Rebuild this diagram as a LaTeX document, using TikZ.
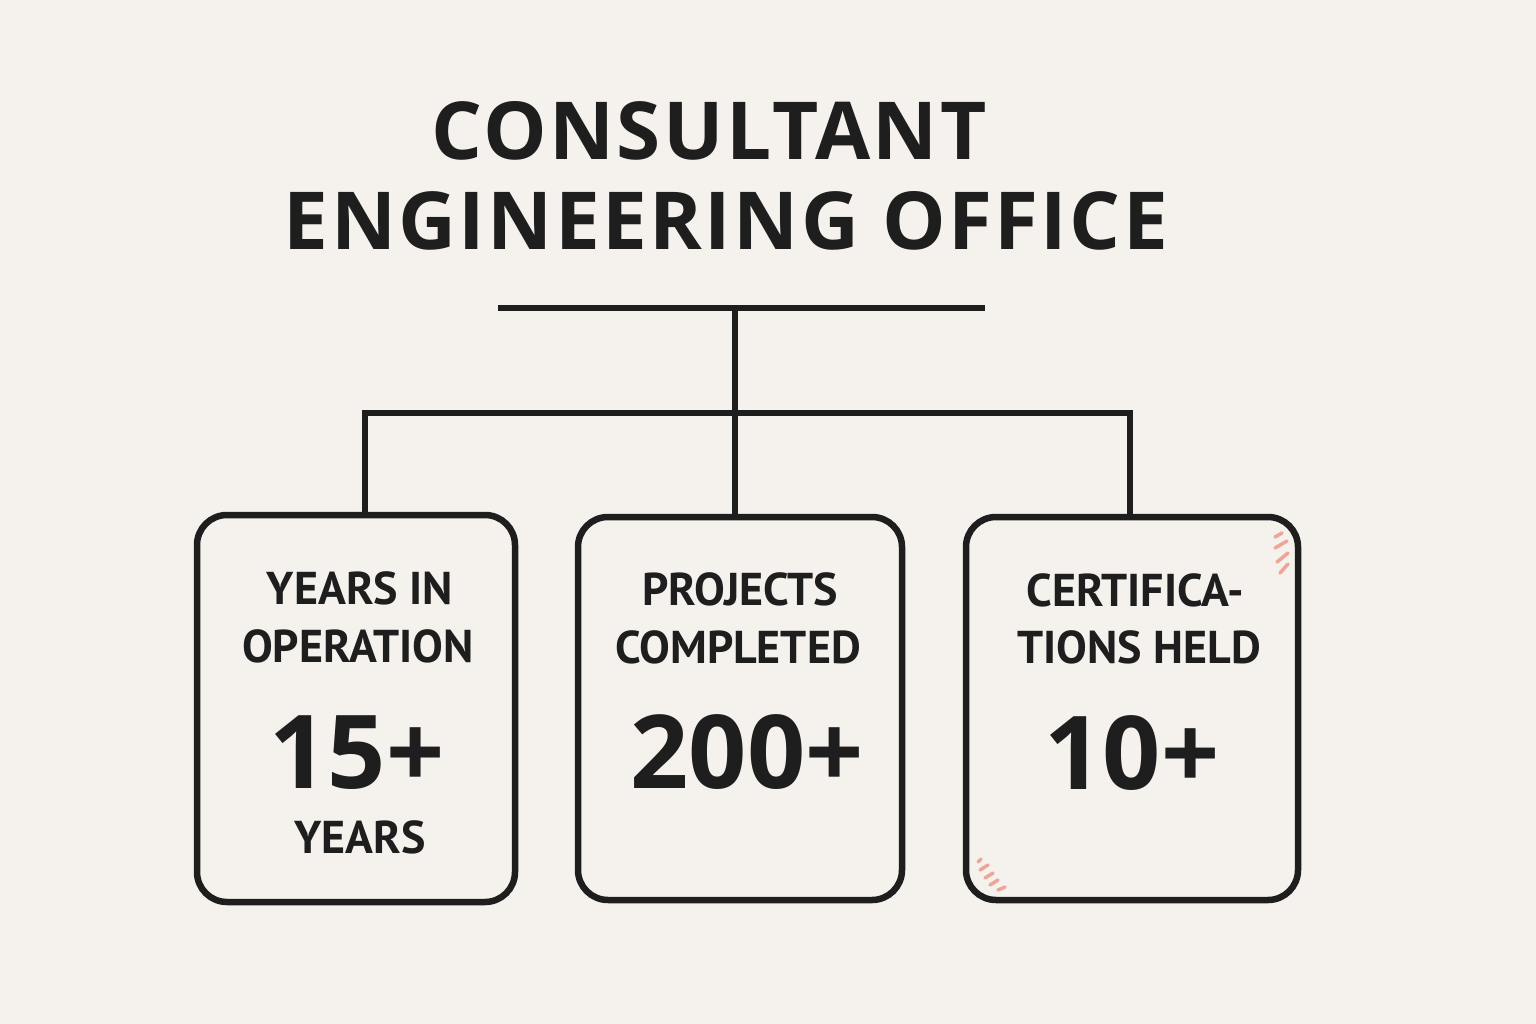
\documentclass[tikz,border=0pt]{standalone}
\usepackage{fontspec}
\setmainfont{Open Sans}
\newfontfamily\boxfont{PT Sans}
\newfontfamily\titlefont{Open Sans}[LetterSpace=3]
\definecolor{paper}{HTML}{F5F2EE}
\definecolor{ink}{HTML}{1E1E1E}
\definecolor{hatch}{HTML}{EFA595}
\begin{document}
\begin{tikzpicture}[x=1pt,y=-1pt,
  wire/.style={draw=ink,line width=6pt},
  statbox/.style={draw=ink,line width=6.5pt,rounded corners=30pt,inner sep=0pt,fill=paper},
  lbl/.style={anchor=base,inner sep=0pt,text=ink,font=\boxfont\bfseries\fontsize{46}{46}\selectfont},
  big/.style={anchor=base,inner sep=0pt,text=ink,font=\bfseries\fontsize{102}{102}\selectfont},
  ttl/.style={anchor=base,inner sep=0pt,text=ink,font=\titlefont\bfseries\fontsize{80}{80}\selectfont},
  hatchline/.style={draw=hatch,line width=3.5pt,line cap=round}]
\fill[paper] (0,0) rectangle (1536,1024);
\useasboundingbox (0,0) rectangle (1536,1024);
% title
\node[ttl] (t1) at (709,160) {CONSULTANT};
\node[ttl] (t2) at (726,250) {ENGINEERING OFFICE};
% boxes
\node[statbox,minimum width=318pt,minimum height=387pt] (b1) at (356,708.5) {};
\node[statbox,minimum width=324pt,minimum height=383pt] (b2) at (740,708.5) {};
\node[statbox,minimum width=332pt,minimum height=383pt] (b3) at (1132,708.5) {};
% connectors
\coordinate (barL) at (498,308);
\coordinate (barR) at (985,308);
\coordinate (barM) at (735,308);
\coordinate (brL) at (365,413);
\coordinate (brR) at (1130,413);
\draw[wire] (barL) -- (barR);
\draw[wire] (barM) -- (b2.north -| barM);
\draw[wire,line join=miter] (b1.north -| brL) -- (brL) -- (brR) -- (b3.north -| brR);
% box 1 text
\node[lbl] (y1) at (360,604) {YEARS IN};
\node[lbl] (y2) at (358,662) {OPERATION};
\node[big] (y3) at (357,788) {15+};
\node[lbl] (y4) at (360,853) {YEARS};
% box 2 text
\node[lbl] (p1) at (740,605) {PROJECTS};
\node[lbl] (p2) at (738,663) {COMPLETED};
\node[big] (p3) at (747,788) {200+};
% box 3 text
\node[lbl] (c1) at (1135,606) {CERTIFICA-};
\node[lbl] (c2) at (1139,663) {TIONS HELD};
\node[big] (c3) at (1132,789) {10+};
% hatch marks
\draw[hatchline] (1275,537) -- (1282,533);
\draw[hatchline] (1275,548) -- (1287,541);
\draw[hatchline] (1277,562) -- (1288,553);
\draw[hatchline] (1280,573) -- (1288,564);
\draw[hatchline] (978,862) -- (981,859);
\draw[hatchline] (980,870) -- (988,865);
\draw[hatchline] (985,878) -- (993,873);
\draw[hatchline] (990,885) -- (998,880);
\draw[hatchline] (998,890) -- (1005,887);
\end{tikzpicture}
\end{document}
